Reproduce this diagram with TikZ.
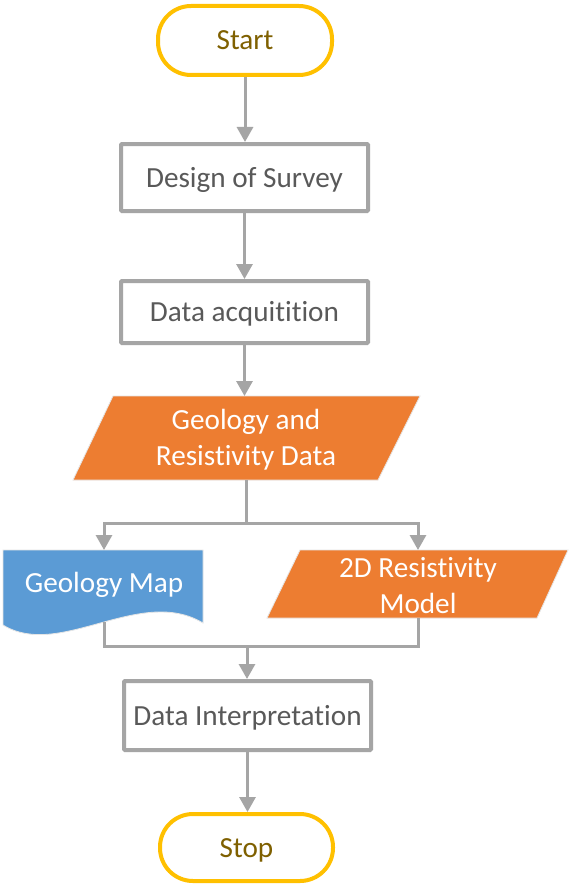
\documentclass[tikz,border=0pt]{standalone}
\usepackage{fontspec}
\setmainfont{Carlito}[Ligatures={NoCommon,NoContextual}]
\usetikzlibrary{arrows.meta}
\definecolor{cgray}{HTML}{A5A5A5}
\definecolor{corange}{HTML}{ED7D31}
\definecolor{cblue}{HTML}{5B9BD5}
\definecolor{cgold}{HTML}{FFC000}
\definecolor{ctext}{HTML}{595959}
\definecolor{cgoldtext}{HTML}{7F6000}
\begin{document}
\begin{tikzpicture}[x=1pt,y=-1pt,
  every node/.style={font=\fontsize{29.2}{36}\selectfont, align=center, inner sep=0pt},
  oneline/.style={text height=19pt, text depth=0pt},
  term/.style={oneline, draw=cgold, line width=4pt, rounded corners=33pt, text=cgoldtext,
    minimum width=174pt, minimum height=69pt},
  box/.style={oneline, draw=cgray, line width=4pt, rounded corners=1pt, text=ctext, minimum width=247pt},
  wtext/.style={text=white},
  shapefill/.style={draw=black!10, line width=0.8pt},
  conn/.style={draw=cgray, line width=3pt},
  arr/.style={conn, -{Triangle[width=16pt,length=15pt]}}
]
\fill[white] (0,0) rectangle (574,888);
\useasboundingbox (0,0) rectangle (574,888);

% nodes
\node[term] (start) at (245,40.5) {Start};
\node[box, minimum height=67pt] (design) at (244.5,177.5) {Design of Survey};
\node[box, minimum height=62pt] (acq) at (244.5,312) {Data acquitition};

\path[shapefill, fill=corange] (113,396) -- (420,396) -- (378,480) -- (73,480) -- cycle;
\node[wtext] (geo) at (246,440) {Geology and\\Resistivity Data};
\coordinate (geotop) at (244.5,396);
\coordinate (geobot) at (246,480);

\path[shapefill, fill=cblue] (3,550) -- (203,550) -- (203,623)
  .. controls (140,585) and (60,660) .. (3,625) -- cycle;
\node[wtext, oneline] (gmap) at (104,583) {Geology Map};
\coordinate (gmtop) at (104,550);
\coordinate (gmbot) at (104,622);

\path[shapefill, fill=corange] (300,550) -- (568,550) -- (537,618) -- (267,618) -- cycle;
\node[wtext] (res) at (418,586) {2D Resistivity\\Model};
\coordinate (restop) at (418,550);
\coordinate (resbot) at (418,618);

\node[box, minimum height=69pt] (interp) at (247.5,715.5) {Data Interpretation};
\node[term, minimum width=173pt, minimum height=67pt] (stop) at (246.5,847.5) {Stop};

\coordinate (split) at (246,523);
\coordinate (merge) at (247,646);

% connectors
\draw[arr] (start.south) -- (start.south |- design.north);
\draw[arr] (design.south) -- (design.south |- acq.north);
\draw[arr] (acq.south) -- (geotop);
\draw[conn] (geobot) -- (split);
\draw[arr] (split) -| (gmtop);
\draw[arr] (split) -| (restop);
\draw[conn] (gmbot) |- (merge);
\draw[conn] (resbot) |- (merge);
\draw[arr] (merge) -- (merge |- interp.north);
\draw[arr] (interp.south) -- (interp.south |- stop.north);
\end{tikzpicture}
\end{document}
